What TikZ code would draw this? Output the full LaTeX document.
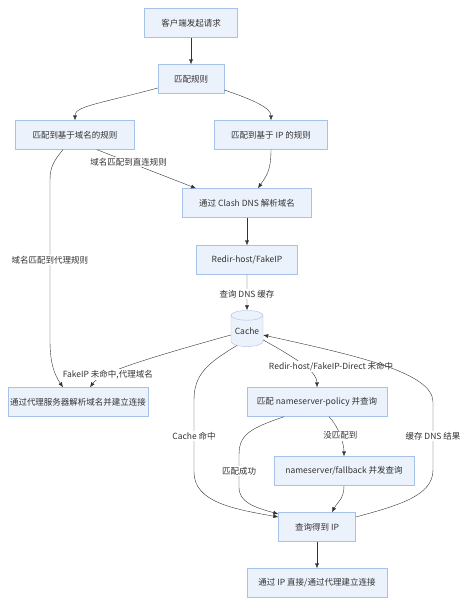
\documentclass[tikz,border=0pt]{standalone}
\usepackage{fontspec}
\setmainfont{Noto Sans CJK SC}
\usetikzlibrary{shapes.geometric, arrows.meta}

\definecolor{boxfill}{HTML}{ECF2FC}
\definecolor{boxline}{HTML}{A6C1EA}
\definecolor{edgecol}{HTML}{333333}

\begin{document}
\begin{tikzpicture}[x=1pt, y=-1pt,
    every node/.style={font=\fontsize{8.5}{10}\selectfont, text=edgecol},
    box/.style={draw=boxline, fill=boxfill, minimum height=29pt, inner sep=0pt},
    db/.style={cylinder, shape border rotate=90, aspect=0.4, draw=boxline, fill=boxfill,
        minimum width=32pt, minimum height=36pt, inner sep=0pt},
    lbl/.style={fill=white, inner sep=1pt},
    arr/.style={draw=edgecol, -{Latex[length=5pt, width=4pt]}}]
    \useasboundingbox (0, 0) rectangle (474, 606);

    % Nodes
    \node[box, minimum width=93pt] (client) at (191, 23) {客户端发起请求};
    \node[box, minimum width=66pt] (rule) at (191, 79) {匹配规则};
    \node[box, minimum width=119pt] (dom) at (75, 135) {匹配到基于域名的规则};
    \node[box, minimum width=113pt] (ip) at (271, 135) {匹配到基于 IP 的规则};
    \node[box, minimum width=129pt] (clash) at (247, 203) {通过 Clash DNS 解析域名};
    \node[box, minimum width=101pt] (mode) at (247, 260) {Redir-host/FakeIP};
    \node[db] (cache) at (247, 331) {Cache};
    \node[box, minimum width=140pt] (proxy) at (78, 402) {通过代理服务器解析域名并建立连接};
    \node[box, minimum width=140pt] (policy) at (317, 402) {匹配 nameserver-policy 并查询};
    \node[box, minimum width=140pt] (fallback) at (344, 471) {nameserver/fallback 并发查询};
    \node[box, minimum width=77pt] (result) at (317, 527) {查询得到 IP};
    \node[box, minimum width=140pt] (connect) at (317, 583) {通过 IP 直接/通过代理建立连接};

    % Rule matching
    \draw[arr] (client) -- (rule);
    \draw[arr] ([yshift=-9pt]rule.west) .. controls +(-60,16) and +(0,-14) .. (dom.north);
    \draw[arr] ([yshift=-11pt]rule.east) .. controls +(30,10) and +(0,-12) .. (ip.north);
    \draw[arr] ([xshift=22pt]dom.south) -- node[lbl, pos=0.32] {域名匹配到直连规则} ([xshift=-51pt]clash.north);
    \draw[arr] ([xshift=-12pt]dom.south) .. controls +(-10,12) and +(0,-12) .. (50, 180)
        -- node[lbl] {域名匹配到代理规则} (50, 340)
        .. controls +(0,25) and +(-8,-12) .. ([xshift=-15pt]proxy.north);
    \draw[arr] (ip.south) .. controls +(0,22) and +(8,-12) .. ([xshift=11pt]clash.north);

    % DNS
    \draw[arr] (clash) -- (mode);
    \draw[arr] (mode) -- node[lbl, pos=0.55] {查询 DNS 缓存} (cache);
    \draw[arr] ([yshift=-4pt]cache.west) .. controls +(-90,25) and +(10,-14) ..
        node[lbl, pos=0.7] {FakeIP 未命中,代理域名} ([xshift=12pt]proxy.north);
    \draw[arr] ([yshift=-9pt]cache.east) .. controls +(40,22) and +(0,-14) ..
        node[lbl, pos=0.5, xshift=26pt] {Redir-host/FakeIP-Direct 未命中} (policy.north);
    \draw[arr] (cache.235) .. controls +(-30,18) and +(0,-25) .. (194, 400)
        -- node[lbl] {Cache 命中} (194, 472)
        .. controls +(0,30) and +(-45,-8) .. ([yshift=10pt]result.west);
    \draw[arr] ([xshift=-33pt]policy.south) .. controls +(-35,12) and +(0,-20) .. (239, 455)
        -- node[lbl] {匹配成功} (239, 487)
        .. controls +(0,15) and +(-25,-7) .. ([yshift=13pt]result.west);
    \draw[arr] ([xshift=12pt]policy.south) .. controls +(10,10) and +(0,-12) ..
        node[lbl] {没匹配到} (fallback.north);
    \draw[arr] (fallback.south) .. controls +(0,14) and +(5,-10) .. ([xshift=15pt]result.north);
    \draw[arr] ([yshift=10pt]result.east) .. controls +(45,-12) and +(0,25) .. (433, 470)
        -- node[lbl] {缓存 DNS 结果} (433, 402)
        .. controls +(0,-30) and +(90,20) .. ([yshift=-4pt]cache.east);
    \draw[arr] (result) -- (connect);
\end{tikzpicture}
\end{document}
